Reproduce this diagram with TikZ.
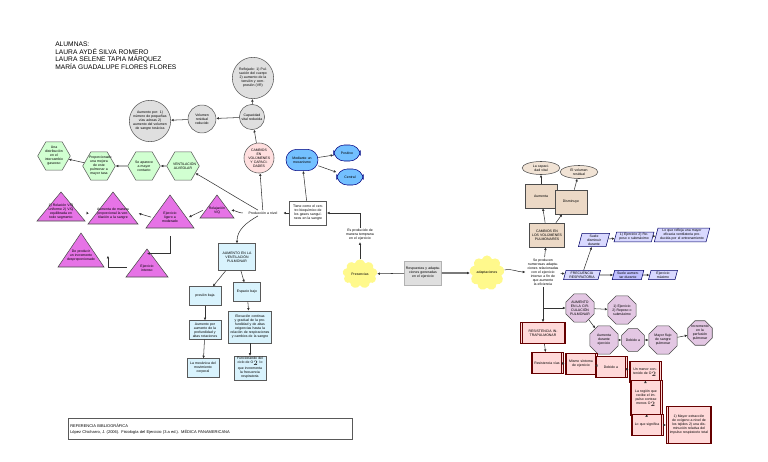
\documentclass[tikz,border=0pt]{standalone}
\usepackage{fontspec}
\setmainfont{Liberation Sans}
\usetikzlibrary{shapes.geometric,shapes.symbols,arrows.meta}
\tikzset{
  base/.style={font=\fontsize{2.6}{3}\selectfont, align=center, inner sep=1pt},
  gcirc/.style={base, circle, draw=gray!70!black, fill=gray!25, text width=22pt, inner sep=0.5pt},
  pcirc/.style={base, circle, draw=gray!70!black, fill=pink!50, text width=16pt, inner sep=0.5pt},
  hexg/.style={base, regular polygon, regular polygon sides=6, draw=gray!70!black, fill=green!18, text width=15pt, inner sep=0pt},
  tri/.style={draw=gray!60!black, fill=violet!35!magenta!55, line width=0.4pt},
  blu/.style={base, rounded corners=8pt, draw=blue!50!black, fill=blue!45!cyan!55, minimum height=16pt, text width=22pt},
  cyb/.style={base, draw=gray!70!black, fill=cyan!15, text width=22pt, minimum height=14pt},
  cloudy/.style={base, cloud, cloud puffs=9, fill=yellow!45, minimum width=26pt, minimum height=18pt, inner sep=0pt},
  tan/.style={base, draw=gray!60!black, fill=brown!30, text width=22pt, minimum height=18pt},
  oval/.style={base, ellipse, draw=gray!60!black, fill=brown!22, text width=18pt},
  par/.style={base, trapezium, trapezium left angle=75, trapezium right angle=105, trapezium stretches body=true, draw=blue!40!black, fill=blue!15, text width=22pt},
  octo/.style={base, regular polygon, regular polygon sides=8, draw=gray!60!black, fill=violet!22, text width=15pt, inner sep=0pt},
  redb/.style={base, draw=red!40!black, fill=red!15, text width=22pt, minimum height=16pt,
    path picture={\draw[red!40!black, line width=0.5pt]
      ([xshift=1.2pt]path picture bounding box.south west) -- ([xshift=1.2pt]path picture bounding box.north west)
      ([xshift=-1.2pt]path picture bounding box.south east) -- ([xshift=-1.2pt]path picture bounding box.north east);}},
  wbox/.style={base, draw=gray!70!black, fill=white, text width=26pt, minimum height=18pt},
  txt/.style={base, text width=28pt},
  arr/.style={-{Latex[length=2pt,width=2pt]}, gray!40!black, line width=0.4pt}
}
% triangle: name, x, base y, width, height, text width, text
\newcommand\tribox[7]{%
  \draw[tri] (#2-#4/2,#3) -- (#2,#3-#5) -- (#2+#4/2,#3) -- cycle;
  \node[base, text width=#6] (#1) at (#2,#3-#5*0.33) {#7};}
\begin{document}
\begin{tikzpicture}[x=0.75pt,y=-0.75pt]
\useasboundingbox (0,0) rectangle (768,461);
\node[anchor=north west, align=left, font=\fontsize{5}{5.6}\selectfont, inner sep=0pt] (names) at (55,42)
  {ALUMNAS:\\LAURA AYDÉ SILVA ROMERO\\LAURA SELENE TAPIA MÁRQUEZ\\MARÍA GUADALUPE FLORES FLORES};

% left half
\node[txt] (prod) at (263,213) {Producción a nivel};
\node[pcirc] (camb) at (259,158) {CAMBIOS EN VOLÚMENES Y CAPACIDADES};
\node[gcirc, text width=17pt] (capv) at (252,117) {Capacidad vital reducida};
\node[gcirc, text width=26pt] (refl) at (253,78) {Reflejado: 1) Pulsación del cuerpo 2) aumento de la tensión y compresión (VR)};
\node[gcirc, text width=18pt] (volr) at (202,119) {Volumen residual reducido};
\node[gcirc, text width=26pt] (aume) at (150,121) {Aumento por: 1) número de pequeñas vías aéreas 2) aumento del volumen de sangre torácica};
\node[hexg] (vent) at (183,166) {VENTILACIÓN ALVEOLAR};
\node[hexg] (apar) at (144,166) {Se aparece a mayor contacto};
\node[hexg] (prop) at (99,166) {Proporcionado una mejora de este pulmonar a mayor tasa};
\node[hexg] (dist) at (54,156) {Una distribución en el intercambio gaseoso};
\tribox{rela}{217}{218}{34}{23}{13pt}{Relajación V/Q}
\tribox{ejer}{170}{228}{48}{33}{14pt}{Ejercicio ligero a moderado}
\tribox{mejo}{113}{224}{50}{32}{24pt}{Aumenta de manera proporcional la ventilación a la sangre}
\tribox{dos}{61}{221}{48}{29}{24pt}{1) Relación V/Q uniforme 2) V/Q equilibrada en todo segmento}
\tribox{inte}{147}{277}{42}{28}{18pt}{Ejercicio intenso}
\tribox{desp}{81}{267}{46}{34}{22pt}{De producir un incremento desproporcionado}
\node[blu] (meca) at (302,160) {Mediante un mecanismo};
\node[blu, text width=18pt, minimum height=12pt] (posi) at (347,153) {Positivo};
\node[blu, text width=18pt, minimum height=12pt] (cent) at (350,177) {Central};
\node[wbox] (tien) at (308,213) {Tiene como el centro bioquímico de los gases sanguíneos en la sangre};
\node[txt] (espr) at (360,235) {Es producido de manera temprana en el ejercicio};
\node[cloudy] (pres) at (360,274) {Presencias};
\node[cyb, text width=26pt, minimum height=20pt] (aven) at (237,257) {AUMENTO EN LA VENTILACIÓN PULMONAR};
\node[cyb] (pbaj) at (205,296) {presión baja};
\node[cyb, text width=18pt] (ebaj) at (247,292) {Espacio bajo};
\node[cyb] (hemo) at (205,330) {Aumento por aumento de la profundidad y altas rotaciones};
\node[cyb, text width=30pt, minimum height=24pt] (elev) at (250,327) {Elevación continua y gradual de la profundidad y de altas exigencias hasta la relación de respiraciones y cambios de la sangre};
\node[cyb] (mecv) at (203,368) {La mecánica del movimiento corporal};
\node[cyb] (ccar) at (250,368) {Funcionando del ciclo de O$_2$ lo que incrementa la frecuencia respiratoria};
% centre
\node[base, draw=gray!60, fill=gray!25, text width=26pt, minimum height=18pt] (resp) at (423,273) {Respuestas y adaptaciones generadas en el ejercicio};
\node[cloudy] (adap) at (487,273) {adaptaciones};
% right half
\node[txt, text width=24pt] (sepr) at (543,272) {Se producen numerosas adaptaciones relacionadas con el ejercicio intenso a fin de que aumente la eficiencia};
\node[tan, text width=24pt] (cvol) at (547,235) {CAMBIOS EN LOS VOLÚMENES PULMONARES};
\node[tan] (aumt) at (541,196) {Aumenta};
\node[tan] (dism) at (571,202) {Disminuye};
\node[oval] (capa) at (541,168) {La capacidad vital};
\node[oval] (resi) at (579,172) {El volumen residual};
\node[par] (rpul) at (582,275) {FRECUENCIA RESPIRATORIA};
\node[par, fill=blue!25, text width=18pt] (sufr) at (628,275) {Suele aumentar durante};
\node[par, text width=16pt] (ejsu) at (663,275) {Ejercicio máximo};
\node[par, text width=16pt] (suel) at (594,240) {Suele disminuir durante};
\node[par, text width=24pt] (ejeq) at (634,237) {1) Ejercicio 2) Reposo o submáximo};
\node[par, text width=34pt] (loqu) at (682,235) {Lo que refleja una mayor eficacia ventilatoria producida por el entrenamiento};
\node[octo] (acir) at (580,308) {AUMENTO EN LA CIRCULACIÓN PULMONAR};
\node[octo] (ejci) at (622,310) {1) Ejercicio 2) Reposo o submáximo};
\node[octo] (apor) at (604,340) {Aumenta durante ejercicio};
\node[octo, text width=12pt] (debi) at (633,340) {Debido a};
\node[octo] (mayo) at (663,340) {Mayor flujo de sangre pulmonar};
\node[octo, text width=13pt] (incr) at (700,333) {Incremento en la perfusión pulmonar};
\node[redb, text width=32pt] (rint) at (543,333) {RESISTENCIA INTRAPULMONAR};
\node[redb] (rvia) at (547,363) {Resistencia vías};
\node[redb] (mism) at (581,364) {Mismo síntoma de ejercicio};
\node[redb] (debr) at (611,367) {Debido a};
\node[redb] (dmen) at (645,372) {Un menor contenido de O$_2$};
\node[redb, minimum height=26pt] (lreg) at (646,398) {La región que recibe el impulso contrae menos O$_2$};
\node[redb] (lsig) at (647,425) {Lo que significa};
\node[redb, text width=32pt, minimum height=28pt] (ufue) at (689,425) {1) Mayor extracción de oxígeno a nivel de los tejidos 2) una disminución relativa del impulso respiratorio total};
% reference
\node[draw=gray!70!black, anchor=north west, align=left, font=\fontsize{3}{4.5}\selectfont, text width=210pt, minimum height=16pt, inner sep=1.5pt] (refe) at (68,418)
  {REFERENCIA BIBLIOGRÁFICA\\López Chicharro, J. (2006). Fisiología del Ejercicio (3.a ed.). MÉDICA PANAMERICANA};

% connectors
\draw[arr] (prod) -- (camb);
\draw[arr] (camb) -- (capv);
\draw[arr] (capv) -- (refl);
\draw[arr] (capv) -- (volr);
\draw[arr] (volr) -- (aume);
\draw[arr] (prod) to[out=150,in=-30] (vent);
\draw[arr] (vent) -- (apar);
\draw[arr] (apar) -- (prop);
\draw[arr] (prop) -- (dist);
\draw[arr] (prod) to[out=180,in=0] ([xshift=3pt]rela.east);
\draw[arr] ([xshift=-3pt]rela.west) -- ([xshift=6pt]ejer.east);
\draw[arr] ([xshift=-6pt]ejer.west) -- ([xshift=6pt]mejo.east);
\draw[arr] ([xshift=-6pt]mejo.west) -- ([xshift=6pt]dos.east);
\draw[arr] ([yshift=-9pt]ejer.south) |- ([yshift=7pt]inte.north);
\draw[arr] ([xshift=-5pt]inte.west) -| ([xshift=8pt]desp.east);
\draw[arr] (prod) to[out=-150,in=90] (aven);
\draw[arr] (aven) -- (pbaj);
\draw[arr] (aven) -- (ebaj);
\draw[arr] (pbaj) -- (hemo);
\draw[arr] (hemo) -- (mecv);
\draw[arr] (ebaj) -- (elev);
\draw[arr] (elev) -- (ccar);
\draw[arr] (tien) -- (prod);
\draw[arr] (tien) -- (meca);
\draw[arr] (meca) -- (posi);
\draw[arr] (meca) -- (cent);
\draw[arr] (espr) |- (tien);
\draw[arr] (pres) -- (espr);
\draw[arr] (resp) -- (pres);
\draw[arr, line width=0.8pt] (resp) -- (adap);
\draw[arr] (adap) to[out=10,in=180] (sepr);
\draw[arr] (sepr) -- (cvol);
\draw[arr] (cvol) -- (aumt);
\draw[arr] (cvol) -- (dism);
\draw[arr] (aumt) -- (capa);
\draw[arr] (dism) -- (resi);
\draw[arr] (sepr) -- (rpul);
\draw[arr] (rpul) -- (sufr);
\draw[arr] (sufr) -- (ejsu);
\draw[arr] (rpul) -- (suel);
\draw[arr] (suel) -- (ejeq);
\draw[arr] (ejeq) -- (loqu);
\draw[arr] (sepr) |- (acir);
\draw[arr] (sepr) -- (rint);
\draw[arr] (acir) -- (ejci);
\draw[arr] (acir) -- (apor);
\draw[arr] (apor) -- (debi);
\draw[arr] (debi) -- (mayo);
\draw[arr] (mayo) -- (incr);
\draw[arr] (rint) -- (rvia);
\draw[arr] (rvia) -- (mism);
\draw[arr] (mism) -- (debr);
\draw[arr] (debr) -- (dmen);
\draw[arr] (dmen) -- (lreg);
\draw[arr] (lreg) -- (lsig);
\draw[arr] (lsig) -- (ufue);
\end{tikzpicture}
\end{document}
